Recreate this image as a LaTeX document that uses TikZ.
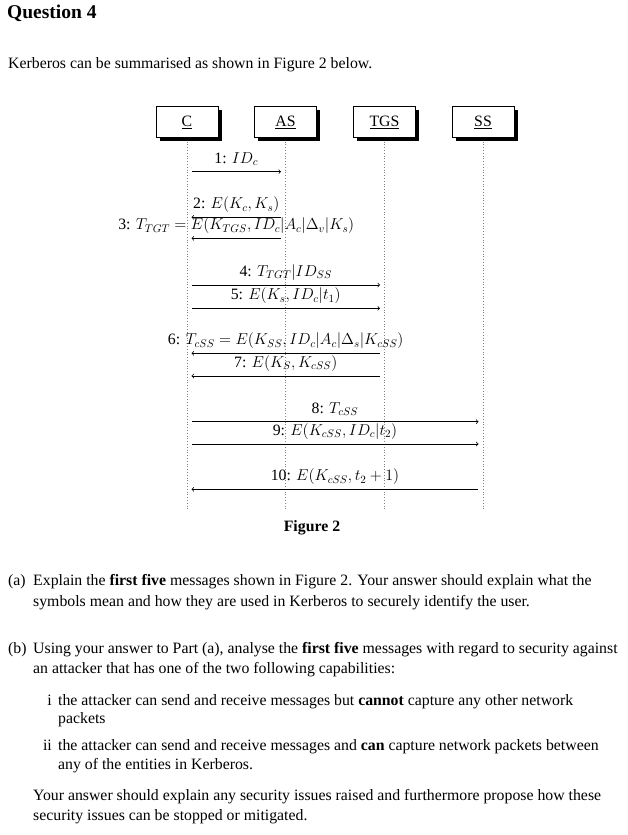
\RequirePackage{fix-cm}
\documentclass[tikz,border=0pt]{standalone}
\usepackage[no-math]{fontspec}
\setmainfont{Liberation Serif}
\usetikzlibrary{positioning, shadows}

\newcommand{\bodysize}{\fontsize{15.8}{21}\selectfont}

\tikzset{
  entity/.style={draw, fill=white, line width=0.8pt, minimum width=62pt, minimum height=30.5pt, inner sep=0pt,
    drop shadow={shadow xshift=3.5pt, shadow yshift=-3.5pt, opacity=1, fill=black}},
  lifeline/.style={gray, dotted, line width=0.8pt},
  msg/.style={->, line width=0.75pt, shorten <=5pt, shorten >=4.5pt},
  msglabel/.style={anchor=base, inner sep=0pt, yshift=8.5pt},
  textline/.style={anchor=base west, inner sep=0pt},
  itemlabel/.style={anchor=base east, inner sep=0pt},
}

\begin{document}
\begin{tikzpicture}[x=1pt, y=-1pt, font=\bodysize]
\useasboundingbox (0,0) rectangle (627,835);

% question head
\node[textline, font=\fontsize{19.5}{21}\selectfont\bfseries] (title) at (7,19) {Question 4};
\node[textline] (intro) at (8,68) {Kerberos can be summarised as shown in Figure 2 below.};

% entities and lifelines
\node[entity] (C) at (187,122) {\underline{C}};
\node[entity] (AS) at (285.5,122) {\underline{AS}};
\node[entity] (TGS) at (384.5,122) {\underline{TGS}};
\node[entity] (SS) at (483,122) {\underline{SS}};
\foreach \n in {C,AS,TGS,SS}
  \draw[lifeline] (\n.south) ++(0,4) -- (\n |- 0,510);

% messages
\foreach \y/\f/\t/\l in {
  171.7/C/AS/{1: $ID_c$},
  217.3/AS/C/{2: $E(K_c, K_s)$},
  238.3/AS/C/{3: $T_{TGT} = E(K_{TGS}, ID_c|A_c|\Delta_v|K_s)$},
  285/C/TGS/{4: $T_{TGT}|ID_{SS}$},
  308.3/C/TGS/{5: $E(K_s, ID_c|t_1)$},
  353.3/TGS/C/{6: $T_{cSS} = E(K_{SS}, ID_c|A_c|\Delta_s|K_{cSS})$},
  376/TGS/C/{7: $E(K_S, K_{cSS})$},
  421.7/C/SS/{8: $T_{cSS}$},
  444/C/SS/{9: $E(K_{cSS}, ID_c|t_2)$},
  489.3/SS/C/{10: $E(K_{cSS}, t_2 + 1)$}}
  \draw[msg] (\f |- 0,\y) -- (\t |- 0,\y) node[msglabel, midway] {\l};

\node[anchor=base, inner sep=0pt, font=\bodysize\bfseries] (fig) at (312,531) {Figure 2};

% part (a)
\node[textline] (pa) at (8,585) {(a)};
\node[textline] (pa1) at (33,585) {Explain the \textbf{first five} messages shown in Figure 2. Your answer should explain what the};
\node[textline] (pa2) at (33,606) {symbols mean and how they are used in Kerberos to securely identify the user.};

% part (b)
\node[textline] (pb) at (8,653) {(b)};
\node[textline] (pb1) at (33,653) {Using your answer to Part (a), analyse the \textbf{first five} messages with regard to security against};
\node[textline] (pb2) at (33,673) {an attacker that has one of the two following capabilities:};
\node[itemlabel] (pi) at (52,705) {i};
\node[textline] (pi1) at (58,705) {the attacker can send and receive messages but \textbf{cannot} capture any other network};
\node[textline] (pi2) at (58,723) {packets};
\node[itemlabel] (pii) at (52,750) {ii};
\node[textline] (pii1) at (58,750) {the attacker can send and receive messages and \textbf{can} capture network packets between};
\node[textline] (pii2) at (58,769) {any of the entities in Kerberos.};
\node[textline] (pc1) at (33,800) {Your answer should explain any security issues raised and furthermore propose how these};
\node[textline] (pc2) at (33,820) {security issues can be stopped or mitigated.};
\end{tikzpicture}
\end{document}
